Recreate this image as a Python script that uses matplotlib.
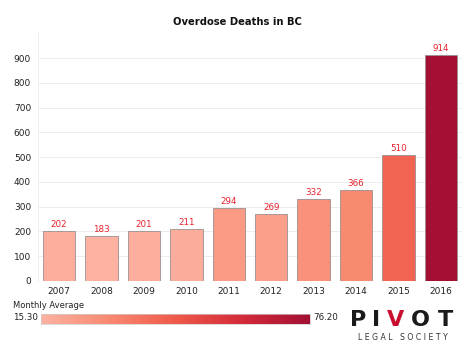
import matplotlib
matplotlib.use("Agg")
import matplotlib.pyplot as plt
import numpy as np
from matplotlib.colors import LinearSegmentedColormap, Normalize

years = ["2007", "2008", "2009", "2010", "2011", "2012", "2013", "2014", "2015", "2016"]
deaths = [202, 183, 201, 211, 294, 269, 332, 366, 510, 914]
yticks = [0, 100, 200, 300, 400, 500, 600, 700, 800, 900]
cbar_min_label = "15.30"
cbar_max_label = "76.20"

plt.rcParams['font.family'] = ['Verdana', 'DejaVu Sans']

cmap = LinearSegmentedColormap.from_list(
    "od", [(0.0, "#FDB2A2"), (0.25, "#F98A72"), (0.5, "#EF5A4A"), (0.75, "#D42B3A"), (1.0, "#A31034")])
monthly = [d / 12.0 for d in deaths]
norm = Normalize(vmin=min(monthly), vmax=max(monthly))

W, H = 474, 357
fig = plt.figure(figsize=(W / 100, H / 100), dpi=100)

# axes in pixel coords
left, right, top, bottom = 38, 462, 32, 281
ax = fig.add_axes([left / W, 1 - bottom / H, (right - left) / W, (bottom - top) / H])

x = np.arange(len(years))
colors = [cmap(norm(m)) for m in monthly]
ax.bar(x, deaths, width=0.76, color=colors, edgecolor="#9a8f8f", linewidth=0.6, zorder=3)
for xi, d in zip(x, deaths):
    ax.text(xi, d + 8, str(d), ha="center", va="bottom", fontsize=6.3, color="#e8202c", zorder=4)

ax.set_xlim(-0.5, len(years) - 0.5)
ax.set_ylim(0, 1005)
ax.set_yticks(yticks)
ax.set_xticks(x)
ax.set_xticklabels(years)
ax.tick_params(axis="both", length=0, labelsize=6.5, colors="#222222", pad=4)
ax.tick_params(axis="y", pad=5)
for lbl in ax.get_yticklabels():
    lbl.set_horizontalalignment("right")
ax.yaxis.grid(True, color="#ececec", linewidth=0.7, zorder=0)
for s in ["top", "right", "bottom"]:
    ax.spines[s].set_visible(False)
ax.spines["left"].set_color("#f0f0f0")
ax.spines["left"].set_linewidth(0.7)

fig.text(237 / W, 1 - 22 / H, "Overdose Deaths in BC", ha="center", va="center",
         fontsize=7.2, fontweight="bold", color="#111111")

# colour bar legend
cax = fig.add_axes([41 / W, 1 - 324 / H, (310 - 41) / W, 10 / H])
grad = np.linspace(0, 1, 256).reshape(1, -1)
cax.imshow(grad, aspect="auto", cmap=cmap, extent=[0, 1, 0, 1])
cax.set_xticks([])
cax.set_yticks([])
for s in cax.spines.values():
    s.set_color("#cccccc")
    s.set_linewidth(0.5)
fig.text(13 / W, 1 - 306 / H, "Monthly Average", ha="left", va="center", fontsize=6, color="#222222")
fig.text(38 / W, 1 - 318 / H, cbar_min_label, ha="right", va="center", fontsize=6.3, color="#222222")
fig.text(313 / W, 1 - 318 / H, cbar_max_label, ha="left", va="center", fontsize=6.3, color="#222222")

# logo
letters = ["P", "I", "V", "O", "T"]
lx = [358.5, 376, 395.5, 420.5, 445]
for L, px in zip(letters, lx):
    fig.text(px / W, 1 - 320 / H, L, ha="center", va="center", fontsize=16, fontweight="bold",
             color="#c8102e" if L == "V" else "#1a1a1a", family=["DejaVu Sans"])
fig.text(403 / W, 1 - 338 / H, "L E G A L   S O C I E T Y", ha="center", va="center",
         fontsize=5.6, color="#333333")

fig.savefig("out.png", dpi=100)
